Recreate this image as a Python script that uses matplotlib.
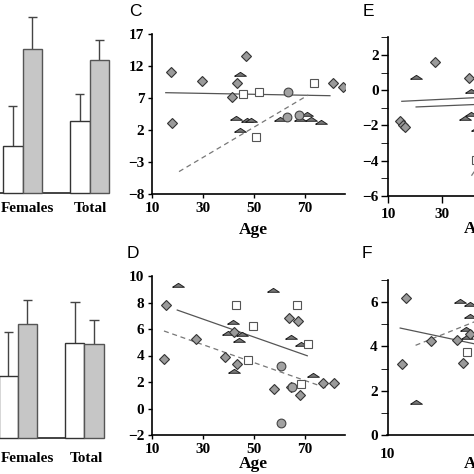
import numpy as np
import matplotlib
matplotlib.use('Agg')
import matplotlib.pyplot as plt
from matplotlib.ticker import FixedLocator
from matplotlib.transforms import offset_copy

plt.rcParams['font.family'] = ['Liberation Serif', 'DejaVu Serif']
plt.rcParams['font.weight'] = 'bold'

# ---- bar panels (left column, only Females/Total visible) ----
bar_cats = ['Females', 'Total']
a_white = [5.9, 9.0]
a_gray = [18.0, 16.6]
a_white_err = [5.0, 3.4]
a_gray_err = [4.0, 2.6]
b_white = [6.2, 9.5]
b_gray = [11.4, 9.4]
b_white_err = [4.4, 4.1]
b_gray_err = [2.4, 2.4]

# ---- panel C ----
c_dia_x = [17.3, 18.0, 29.7, 46.9, 43.5, 41.4, 80.9, 85.0]
c_dia_y = [11.0, 3.1, 9.6, 13.6, 9.3, 7.2, 9.3, 8.7]
c_tri_x = [44.5, 42.9, 44.5, 47.1, 48.8, 60.2, 70.7, 68.0, 72.2, 76.3]
c_tri_y = [10.75, 3.8, 2.0, 3.5, 3.5, 3.7, 4.5, 3.7, 3.7, 3.3]
c_cir_x = [63.5, 62.8, 67.8]
c_cir_y = [7.9, 4.0, 4.35]
c_sq_x = [45.8, 52.0, 50.9, 73.5]
c_sq_y = [7.7, 8.0, 0.9, 9.3]
c_fit_x, c_fit_y = [15.4, 79.8], [7.83, 7.36]
c_dfit_x, c_dfit_y = [20.6, 71.3], [-4.5, 7.47]

# ---- panel D ----
d_dia_x = [14.6, 15.6, 27.1, 38.8, 42.2, 43.5, 63.7, 67.4, 57.8, 64.5, 68.0, 77.2, 81.5]
d_dia_y = [3.74, 7.81, 5.22, 3.86, 5.8, 3.36, 6.83, 6.58, 1.5, 1.6, 1.0, 1.95, 1.95]
d_tri_x = [20.3, 57.3, 41.6, 39.9, 45.2, 44.1, 42.2, 64.4, 68.3, 73.0]
d_tri_y = [9.3, 8.97, 6.55, 5.67, 5.62, 5.2, 2.85, 5.42, 4.84, 2.5]
d_cir_x = [60.5, 64.8, 60.5]
d_cir_y = [3.2, 1.62, -1.12]
d_sq_x = [42.8, 49.5, 66.7, 71.3, 47.8, 68.4]
d_sq_y = [7.81, 6.23, 7.81, 4.87, 3.66, 1.83]
d_fit_x, d_fit_y = [19.9, 70.9], [7.43, 3.98]
d_dfit_x, d_dfit_y = [14.7, 79.5], [5.85, 1.47]

# ---- panel E ----
e_dia_x = [27.3, 39.9, 14.3, 15.5, 16.2]
e_dia_y = [1.62, 0.67, -1.77, -1.95, -2.08]
e_tri_x = [20.3, 40.5, 38.4, 40.5, 42.7]
e_tri_y = [0.76, -0.06, -1.57, -1.35, -2.2]
e_sq_x = [42.3]
e_sq_y = [-3.95]
e_fit_x, e_fit_y = [15.0, 44.0], [-0.63, -0.41]
e_fit2_x, e_fit2_y = [20.3, 44.0], [-0.95, -0.80]
e_dfit_x, e_dfit_y = [40.8, 45.0], [-4.85, -3.9]

# ---- panel F ----
f_dia_x = [16.7, 15.4, 26.2, 35.7, 38.1, 40.6]
f_dia_y = [6.2, 3.2, 4.25, 4.28, 3.23, 4.58]
f_tri_x = [20.4, 36.7, 40.4, 40.6, 38.9, 39.4]
f_tri_y = [1.47, 6.05, 5.93, 5.36, 4.8, 4.43]
f_sq_x = [39.4]
f_sq_y = [3.75]
f_fit_x, f_fit_y = [14.7, 44.0], [4.83, 4.07]
f_dfit_x, f_dfit_y = [20.4, 44.0], [4.05, 5.2]

W = 474.0
fig = plt.figure(figsize=(4.74, 4.74), dpi=100)


def px_axes(l, t, r, b):
    return fig.add_axes([l/W, 1-b/W, (r-l)/W, (b-t)/W])


def bar_panel(ax, white, gray, werr, gerr, width, lab_dx, lab_dy):
    pos = np.arange(1, len(bar_cats)+1)
    ax.bar(pos-width/2, white, width, color='white', edgecolor='#333333', lw=1.0, clip_on=False, zorder=3)
    ax.bar(pos+width/2, gray, width, color='#c6c6c6', edgecolor='#555555', lw=1.0, clip_on=False, zorder=3)
    for xs, ys, es in [(pos-width/2, white, werr), (pos+width/2, gray, gerr)]:
        ys = np.array(ys); es = np.array(es)
        ax.vlines(xs, ys, ys+es, color='#444444', lw=1.0, zorder=2, clip_on=False)
        ax.hlines(ys+es, xs-0.07, xs+0.07, color='#444444', lw=1.0, zorder=2, clip_on=False)
    ax.set_xticks([])
    ax.set_yticks([])
    for p, name, dx in zip(pos, bar_cats, lab_dx):
        tr = offset_copy(ax.get_xaxis_transform(), fig=fig, x=dx, y=-lab_dy, units='dots')
        ax.text(p, 0, name, transform=tr, ha='center', va='center', fontsize=11)
    for s in ['top', 'right', 'left']:
        ax.spines[s].set_visible(False)
    ax.spines['bottom'].set_linewidth(1.2)
    ax.spines['bottom'].set_color('#222222')


axA = px_axes(-120, 10, 109, 193)
bar_panel(axA, a_white, a_gray, a_white_err, a_gray_err, 0.29, [5, 0.5], 16)
axA.set_xlim(-1.127, 2.291)
axA.set_ylim(0, 22.9)

axB = px_axes(-120, 255, 93, 438)
bar_panel(axB, b_white, b_gray, b_white_err, b_gray_err, 0.286, [9, 1.5], 21)
axB.set_xlim(-1.075, 2.128)
axB.set_ylim(0, 18.3)

tri = [(-1, -0.3), (1, -0.3), (0, 0.36), (-1, -0.3)]


def scatter_panel(ax, dia, tris, cir, sq, fits, dfits):
    for xs, ys in fits:
        ax.plot(xs, ys, color='#555555', lw=0.9, zorder=2)
    for xs, ys in dfits:
        ax.plot(xs, ys, color='#777777', lw=0.9, ls=(0, (4, 3)), zorder=2)
    ax.plot(tris[0], tris[1], ls='none', marker=tri, ms=8.5, mfc='#7a7a7a', mec='#222222', mew=0.7, zorder=3)
    ax.plot(dia[0], dia[1], ls='none', marker='D', ms=5.5, mfc='#9a9a9a', mec='#333333', mew=0.8, zorder=4)
    if cir:
        ax.plot(cir[0], cir[1], ls='none', marker='o', ms=6.3, mfc='#a2a2a2', mec='#444444', mew=0.8, zorder=4)
    ax.plot(sq[0], sq[1], ls='none', marker='s', ms=5.8, mfc='white', mec='#555555', mew=0.8, zorder=4)
    for s in ['top', 'right']:
        ax.spines[s].set_visible(False)
    for s in ['left', 'bottom']:
        ax.spines[s].set_linewidth(1.2)
    ax.tick_params(labelsize=11, direction='out', width=1.0)
    ax.set_xticks([10, 30, 50, 70])


axC = px_axes(152, 34, 345, 194)
scatter_panel(axC, (c_dia_x, c_dia_y), (c_tri_x, c_tri_y), (c_cir_x, c_cir_y), (c_sq_x, c_sq_y),
              [(c_fit_x, c_fit_y)], [(c_dfit_x, c_dfit_y)])
axC.set_xlim(10, 85.7)
axC.set_ylim(-8, 17)
axC.set_yticks([-8, -3, 2, 7, 12, 17])
axC.tick_params(length=3, pad=2.5)

axD = px_axes(152, 276, 345, 435)
scatter_panel(axD, (d_dia_x, d_dia_y), (d_tri_x, d_tri_y), (d_cir_x, d_cir_y), (d_sq_x, d_sq_y),
              [(d_fit_x, d_fit_y)], [(d_dfit_x, d_dfit_y)])
axD.set_xlim(10, 85.7)
axD.set_ylim(-2, 10)
axD.set_yticks(np.arange(-2, 11, 2))
axD.tick_params(length=3, pad=2.5)

axE = px_axes(388.3, 37.3, 600, 196)
scatter_panel(axE, (e_dia_x, e_dia_y), (e_tri_x, e_tri_y), None, (e_sq_x, e_sq_y),
              [(e_fit_x, e_fit_y), (e_fit2_x, e_fit2_y)], [(e_dfit_x, e_dfit_y)])
axE.set_xlim(10, 88.4)
axE.set_ylim(-6, 3)
axE.set_xticks([10, 30])
axE.set_yticks([-6, -4, -2, 0, 2])
axE.yaxis.set_minor_locator(FixedLocator([-5, -3, -1, 1, 3]))
axE.tick_params(which='both', length=5, pad=2)
axE.tick_params(axis='x', pad=4)

axF = px_axes(387.5, 280, 600, 435)
scatter_panel(axF, (f_dia_x, f_dia_y), (f_tri_x, f_tri_y), None, (f_sq_x, f_sq_y),
              [(f_fit_x, f_fit_y)], [(f_dfit_x, f_dfit_y)])
axF.set_xlim(10, 88.7)
axF.set_ylim(0, 7)
axF.set_xticks([10])
axF.set_yticks([0, 2, 4, 6])
axF.yaxis.set_minor_locator(FixedLocator([1, 3, 5, 7]))
axF.tick_params(which='both', length=5, pad=2)
axF.tick_params(axis='x', length=0, pad=9)

# panel letters and axis titles
for lab, x, y in [('C', 135, 12), ('D', 133, 253), ('E', 368, 12), ('F', 367, 253)]:
    fig.text(x/W, 1-y/W, lab, fontsize=12.5, fontweight='normal', family=['Liberation Sans', 'DejaVu Sans'],
             ha='center', va='center')
for x, y in [(253, 230), (253, 464), (478, 229), (478, 464)]:
    fig.text(x/W, 1-y/W, 'Age', fontsize=12.5, ha='center', va='center')

fig.savefig('out.png', dpi=100)
